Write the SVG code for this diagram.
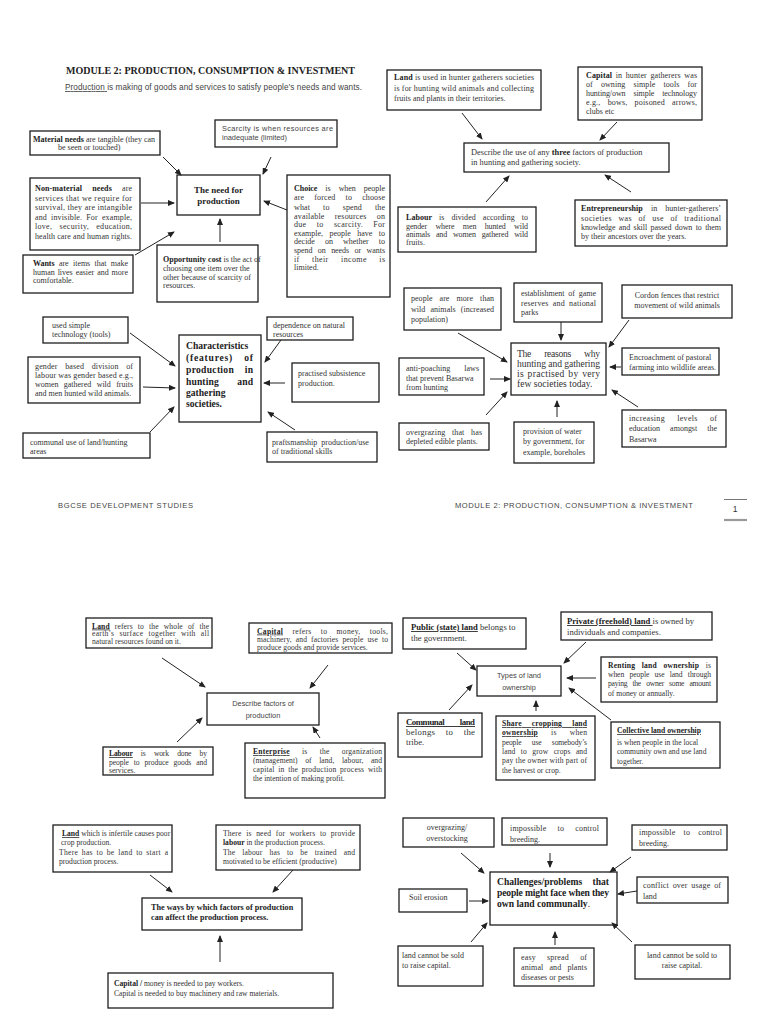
<svg xmlns="http://www.w3.org/2000/svg" width="768" height="1024" viewBox="0 0 768 1024">
<defs>
<marker id="ah" markerUnits="userSpaceOnUse" markerWidth="7" markerHeight="6" refX="6" refY="3" orient="auto"><path d="M0,0 L7,3 L0,6 z" fill="#222"/></marker>
<style>
.bx{fill:#fff;stroke:#1e1e1e;stroke-width:1.3}
.t{font-family:"Liberation Serif","Times New Roman",serif;font-size:8px;fill:#333}
.m{font-size:7.6px}
.s{font-family:"Liberation Sans",Arial,sans-serif;font-size:7.4px;fill:#444}
.b{font-weight:bold;fill:#222}
.u{text-decoration:underline}
.c{text-anchor:middle}
#connectors line{stroke:#222;stroke-width:1;marker-end:url(#ah)}
</style>
</defs>
<rect width="768" height="1024" fill="#fff"/>

<g id="header">
<text x="66" y="74" class="t b" style="font-size:9.6px" textLength="289" lengthAdjust="spacingAndGlyphs">MODULE 2: PRODUCTION, CONSUMPTION &amp; INVESTMENT</text>
<text x="65" y="90" class="s" style="font-size:8.2px" textLength="297" lengthAdjust="spacing"><tspan class="u">Production </tspan>is making of goods and services to satisfy people’s needs and wants.</text>
</g>

<g id="n-material"><rect class="bx" x="30" y="131" width="130" height="24"/>
<text class="t" x="33" y="142" textLength="122" lengthAdjust="spacing"><tspan class="b">Material needs</tspan> are tangible (they can</text>
<text class="t" x="58" y="150">be seen or touched)</text></g>

<g id="n-scarcity"><rect class="bx" x="215" y="120" width="122" height="27"/>
<text class="s" x="222" y="131" textLength="111" lengthAdjust="spacing">Scarcity is when resources are</text>
<text class="s" x="222" y="140">inadequate (limited)</text></g>

<g id="n-need"><rect class="bx" x="177" y="175" width="83" height="40"/>
<text class="t b c" style="font-size:9px" x="218.5" y="193">The need for</text>
<text class="t b c" style="font-size:9px" x="218.5" y="204">production</text></g>

<g id="n-nonmaterial"><rect class="bx" x="30" y="178" width="110" height="72"/>
<text class="t" x="35" y="191" word-spacing="8" textLength="97" lengthAdjust="spacing"><tspan class="b">Non-material needs</tspan> are</text>
<text class="t" x="35" y="201" textLength="97" lengthAdjust="spacing">services that we require for</text>
<text class="t" x="35" y="210" textLength="97" lengthAdjust="spacing">survival, they are intangible</text>
<text class="t" x="35" y="220" word-spacing="2" textLength="97" lengthAdjust="spacing">and invisible. For example,</text>
<text class="t" x="35" y="229" word-spacing="5" textLength="97" lengthAdjust="spacing">love, security, education,</text>
<text class="t" x="35" y="239" textLength="97" lengthAdjust="spacing">health care and human rights.</text></g>

<g id="n-wants"><rect class="bx" x="23" y="255" width="110" height="38"/>
<text class="t" x="33" y="266" word-spacing="2.5" textLength="95" lengthAdjust="spacing"><tspan class="b">Wants</tspan> are items that make</text>
<text class="t" x="33" y="275" word-spacing="1" textLength="95" lengthAdjust="spacing">human lives easier and more</text>
<text class="t" x="33" y="283">comfortable.</text></g>

<g id="n-opportunity"><rect class="bx" x="157" y="245" width="101" height="57"/>
<text class="t" x="163" y="262"><tspan class="b">Opportunity cost</tspan> is the act of</text>
<text class="t" x="163" y="271">choosing one item over the</text>
<text class="t" x="163" y="280">other because of scarcity of</text>
<text class="t" x="163" y="288">resources.</text></g>

<g id="n-choice"><rect class="bx" x="287" y="175" width="103" height="122"/>
<text class="t" x="294" y="191" word-spacing="6" textLength="91" lengthAdjust="spacing"><tspan class="b">Choice</tspan> is when people</text>
<text class="t" x="294" y="200" word-spacing="8" textLength="91" lengthAdjust="spacing">are forced to choose</text>
<text class="t" x="294" y="209.5" word-spacing="11" textLength="91" lengthAdjust="spacing">what to spend the</text>
<text class="t" x="294" y="218.5" word-spacing="8" textLength="91" lengthAdjust="spacing">available resources on</text>
<text class="t" x="294" y="227" word-spacing="8" textLength="91" lengthAdjust="spacing">due to scarcity. For</text>
<text class="t" x="294" y="235.5" word-spacing="4.5" textLength="91" lengthAdjust="spacing">example, people have to</text>
<text class="t" x="294" y="244" word-spacing="8" textLength="91" lengthAdjust="spacing">decide on whether to</text>
<text class="t" x="294" y="253" word-spacing="3.5" textLength="91" lengthAdjust="spacing">spend on needs or wants</text>
<text class="t" x="294" y="262" word-spacing="10" textLength="91" lengthAdjust="spacing">if their income is</text>
<text class="t" x="294" y="270">limited.</text></g>

<g id="n-land-hg"><rect class="bx" x="387" y="70" width="154" height="40"/>
<text class="t" x="394" y="80" textLength="140" lengthAdjust="spacing"><tspan class="b">Land</tspan> is used in hunter gatherers societies</text>
<text class="t" x="394" y="90.5" textLength="140" lengthAdjust="spacing">is for hunting wild animals and collecting</text>
<text class="t" x="394" y="101">fruits and plants in their territories.</text></g>

<g id="n-capital-hg"><rect class="bx" x="578" y="67" width="124" height="53"/>
<text class="t" x="586" y="78" word-spacing="1.5" textLength="111" lengthAdjust="spacing"><tspan class="b">Capital</tspan> in hunter gatherers was</text>
<text class="t" x="586" y="87" word-spacing="6" textLength="111" lengthAdjust="spacing">of owning simple tools for</text>
<text class="t" x="586" y="96" word-spacing="6" textLength="111" lengthAdjust="spacing">hunting/own simple technology</text>
<text class="t" x="586" y="105" word-spacing="5" textLength="111" lengthAdjust="spacing">e.g., bows, poisoned arrows,</text>
<text class="t" x="586" y="114">clubs etc</text></g>

<g id="n-describe-hg"><rect class="bx" x="464" y="143" width="205" height="29"/>
<text class="t" style="font-size:8.4px" x="471" y="155">Describe the use of any <tspan class="b">three</tspan> factors of production</text>
<text class="t" style="font-size:8.4px" x="471" y="165">in hunting and gathering society.</text></g>

<g id="n-labour-hg"><rect class="bx" x="398" y="207" width="138" height="45"/>
<text class="t" x="406" y="220" word-spacing="5" textLength="122" lengthAdjust="spacing"><tspan class="b">Labour</tspan> is divided according to</text>
<text class="t" x="406" y="229" word-spacing="6.5" textLength="122" lengthAdjust="spacing">gender where men hunted wild</text>
<text class="t" x="406" y="237" word-spacing="4" textLength="122" lengthAdjust="spacing">animals and women gathered wild</text>
<text class="t" x="406" y="245">fruits.</text></g>

<g id="n-entre-hg"><rect class="bx" x="575" y="200" width="152" height="46"/>
<text class="t" x="581" y="211" word-spacing="6" textLength="140" lengthAdjust="spacing"><tspan class="b">Entrepreneurship</tspan> in hunter-gatherers’</text>
<text class="t" x="581" y="221" word-spacing="4" textLength="140" lengthAdjust="spacing">societies was of use of traditional</text>
<text class="t" x="581" y="230" word-spacing="1.5" textLength="140" lengthAdjust="spacing">knowledge and skill passed down to them</text>
<text class="t" x="581" y="239">by their ancestors over the years.</text></g>

<g id="n-simple"><rect class="bx" x="43" y="317" width="85" height="26"/>
<text class="t" x="52" y="328">used simple</text>
<text class="t" x="52" y="337">technology (tools)</text></g>

<g id="n-gender"><rect class="bx" x="28" y="357" width="112" height="46"/>
<text class="t" x="35" y="369" word-spacing="5.5" textLength="98" lengthAdjust="spacing">gender based division of</text>
<text class="t" x="35" y="378" textLength="98" lengthAdjust="spacing">labour was gender based e.g.,</text>
<text class="t" x="35" y="387" word-spacing="3.5" textLength="98" lengthAdjust="spacing">women gathered wild fruits</text>
<text class="t" x="35" y="396">and men hunted wild animals.</text></g>

<g id="n-communal-use"><rect class="bx" x="23" y="433" width="127" height="25"/>
<text class="t" x="30" y="445">communal use of land/hunting</text>
<text class="t" x="30" y="454">areas</text></g>

<g id="n-characteristics"><rect class="bx" x="179" y="335" width="82" height="87"/>
<text class="t b" style="font-size:9.6px" x="186" y="349">Characteristics</text>
<text class="t b" style="font-size:9.6px" x="186" y="361" word-spacing="8" textLength="67" lengthAdjust="spacing">(features) of</text>
<text class="t b" style="font-size:9.6px" x="186" y="373" word-spacing="8" textLength="67" lengthAdjust="spacing">production in</text>
<text class="t b" style="font-size:9.6px" x="186" y="385" word-spacing="16" textLength="67" lengthAdjust="spacing">hunting and</text>
<text class="t b" style="font-size:9.6px" x="186" y="396">gathering</text>
<text class="t b" style="font-size:9.6px" x="186" y="407">societies.</text></g>

<g id="n-dependence"><rect class="bx" x="267" y="317" width="86" height="23"/>
<text class="t" x="273" y="328">dependence on natural</text>
<text class="t" x="273" y="337">resources</text></g>

<g id="n-practised"><rect class="bx" x="292" y="363" width="87" height="39"/>
<text class="t" x="298" y="376">practised subsistence</text>
<text class="t" x="298" y="386">production.</text></g>

<g id="n-praftsmanship"><rect class="bx" x="267" y="432" width="110" height="30"/>
<text class="t" x="272" y="445" word-spacing="2">praftsmanship production/use</text>
<text class="t" x="272" y="454">of traditional skills</text></g>

<g id="n-people"><rect class="bx" x="404" y="288" width="97" height="42"/>
<text class="t" x="411" y="301" word-spacing="5" textLength="83" lengthAdjust="spacing">people are more than</text>
<text class="t" x="411" y="312" word-spacing="3" textLength="83" lengthAdjust="spacing">wild animals (increased</text>
<text class="t" x="411" y="322">population)</text></g>

<g id="n-establishment"><rect class="bx" x="514" y="283" width="88" height="39"/>
<text class="t" x="521" y="296" word-spacing="2" textLength="75" lengthAdjust="spacing">establishment of game</text>
<text class="t" x="521" y="306" word-spacing="2" textLength="75" lengthAdjust="spacing">reserves and national</text>
<text class="t" x="521" y="315">parks</text></g>

<g id="n-cordon"><rect class="bx" x="622" y="285" width="110" height="33"/>
<text class="t c" x="677" y="298">Cordon fences that restrict</text>
<text class="t c" x="677" y="308">movement of wild animals</text></g>

<g id="n-reasons"><rect class="bx" x="511" y="343" width="95" height="52"/>
<text class="t" style="font-size:9.6px" x="517" y="357" word-spacing="11" textLength="83" lengthAdjust="spacing">The reasons why</text>
<text class="t" style="font-size:9.6px" x="517" y="367" textLength="83" lengthAdjust="spacing">hunting and gathering</text>
<text class="t" style="font-size:9.6px" x="517" y="377" word-spacing="1" textLength="83" lengthAdjust="spacing">is practised by very</text>
<text class="t" style="font-size:9.6px" x="517" y="387">few societies today.</text></g>

<g id="n-encroachment"><rect class="bx" x="622" y="348" width="97" height="27"/>
<text class="t" x="629" y="360">Encroachment of pastoral</text>
<text class="t" x="629" y="370">farming into wildlife areas.</text></g>

<g id="n-antipoaching"><rect class="bx" x="399" y="358" width="85" height="37"/>
<text class="t" x="406" y="371" word-spacing="12" textLength="73" lengthAdjust="spacing">anti-poaching laws</text>
<text class="t" x="406" y="381">that prevent Basarwa</text>
<text class="t" x="406" y="390">from hunting</text></g>

<g id="n-overgrazing-hg"><rect class="bx" x="399" y="423" width="90" height="27"/>
<text class="t" x="406" y="435" word-spacing="4.5" textLength="76" lengthAdjust="spacing">overgrazing that has</text>
<text class="t" x="406" y="444">depleted edible plants.</text></g>

<g id="n-provision"><rect class="bx" x="514" y="422" width="80" height="41"/>
<text class="t" x="523" y="434">provision of water</text>
<text class="t" x="523" y="444">by government, for</text>
<text class="t" x="523" y="455">example, boreholes</text></g>

<g id="n-increasing"><rect class="bx" x="622" y="410" width="104" height="37"/>
<text class="t" x="629" y="421" word-spacing="10" textLength="88" lengthAdjust="spacing">increasing levels of</text>
<text class="t" x="629" y="431" word-spacing="8" textLength="88" lengthAdjust="spacing">education amongst the</text>
<text class="t" x="629" y="442">Basarwa</text></g>

<g id="footer">
<text class="s" style="font-size:7.6px" x="58" y="508" textLength="135" lengthAdjust="spacing">BGCSE DEVELOPMENT STUDIES</text>
<text class="s" style="font-size:7.6px" x="455" y="508" textLength="238" lengthAdjust="spacing">MODULE 2: PRODUCTION, CONSUMPTION &amp; INVESTMENT</text>
<line x1="724" y1="499.5" x2="747" y2="499.5" stroke="#555" stroke-width="0.8"/>
<text class="s c" style="font-size:8.5px;fill:#333" x="735" y="512">1</text>
<line x1="724" y1="520" x2="747" y2="520" stroke="#999" stroke-width="2.2"/>
</g>

<g id="n-land-f"><rect class="bx" x="86" y="618" width="126" height="30"/>
<text class="t m" x="92" y="628.5" word-spacing="3" textLength="117" lengthAdjust="spacing"><tspan class="b u">Land</tspan> refers to the whole of the</text>
<text class="t m" x="92" y="636" word-spacing="3" textLength="117" lengthAdjust="spacing">earth’s surface together with all</text>
<text class="t m" x="92" y="643.5">natural resources found on it.</text></g>

<g id="n-capital-f"><rect class="bx" x="249" y="623" width="143" height="30"/>
<text class="t m" x="257" y="633.5" word-spacing="7" textLength="131" lengthAdjust="spacing"><tspan class="b u">Capital</tspan> refers to money, tools,</text>
<text class="t m" x="257" y="641.5" word-spacing="2" textLength="131" lengthAdjust="spacing">machinery, and factories people use to</text>
<text class="t m" x="257" y="649.5">produce goods and provide services.</text></g>

<g id="n-describe-f"><rect class="bx" x="207" y="693" width="112" height="32"/>
<text class="s c" x="263" y="706">Describe factors of</text>
<text class="s c" x="263" y="718">production</text></g>

<g id="n-labour-f"><rect class="bx" x="103" y="747" width="110" height="28"/>
<text class="t m" x="109" y="756" word-spacing="6.5" textLength="98" lengthAdjust="spacing"><tspan class="b u">Labour</tspan> is work done by</text>
<text class="t m" x="109" y="765" word-spacing="3" textLength="98" lengthAdjust="spacing">people to produce goods and</text>
<text class="t m" x="109" y="773">services.</text></g>

<g id="n-enterprise-f"><rect class="bx" x="245" y="743" width="140" height="55"/>
<text class="t m" x="253" y="754" word-spacing="10" textLength="129" lengthAdjust="spacing"><tspan class="b u">Enterprise</tspan> is the organization</text>
<text class="t m" x="253" y="763" word-spacing="5.5" textLength="129" lengthAdjust="spacing">(management) of land, labour, and</text>
<text class="t m" x="253" y="772" word-spacing="1.5" textLength="129" lengthAdjust="spacing">capital in the production process with</text>
<text class="t m" x="253" y="781">the intention of making profit.</text></g>

<g id="n-public"><rect class="bx" x="403" y="618" width="123" height="31"/>
<text class="t" style="font-size:8.6px" x="411" y="630"><tspan class="b u">Public (state) land</tspan> belongs to</text>
<text class="t" style="font-size:8.6px" x="411" y="641">the government.</text></g>

<g id="n-private"><rect class="bx" x="561" y="612" width="151" height="28"/>
<text class="t" style="font-size:8.6px" x="567" y="624"><tspan class="b u">Private (freehold) land </tspan>is owned by</text>
<text class="t" style="font-size:8.6px" x="567" y="635">individuals and companies.</text></g>

<g id="n-types"><rect class="bx" x="477" y="666" width="84" height="30"/>
<text class="s c" x="519" y="678">Types of land</text>
<text class="s c" x="519" y="690">ownership</text></g>

<g id="n-renting"><rect class="bx" x="601" y="657" width="116" height="45"/>
<text class="t m" x="608" y="668" word-spacing="4.5" textLength="103" lengthAdjust="spacing"><tspan class="b">Renting land ownership</tspan> is</text>
<text class="t m" x="608" y="677" word-spacing="3.5" textLength="103" lengthAdjust="spacing">when people use land through</text>
<text class="t m" x="608" y="686" word-spacing="3.5" textLength="103" lengthAdjust="spacing">paying the owner some amount</text>
<text class="t m" x="608" y="696">of money or annually.</text></g>

<g id="n-communal"><rect class="bx" x="398" y="713" width="84" height="44"/>
<text class="t" style="font-size:8.8px" x="406" y="725" word-spacing="14" textLength="69" lengthAdjust="spacing"><tspan class="b u">Communal land</tspan></text>
<text class="t" style="font-size:8.8px" x="406" y="735" word-spacing="8" textLength="69" lengthAdjust="spacing">belongs to the</text>
<text class="t" style="font-size:8.8px" x="406" y="745">tribe.</text></g>

<g id="n-share"><rect class="bx" x="496" y="716" width="99" height="64"/>
<text class="t m" x="502" y="726" word-spacing="8" textLength="85" lengthAdjust="spacing"><tspan class="b u">Share cropping land</tspan></text>
<text class="t m" x="502" y="735" word-spacing="11" textLength="85" lengthAdjust="spacing"><tspan class="b u">ownership</tspan> is when</text>
<text class="t m" x="502" y="745" word-spacing="8.5" textLength="85" lengthAdjust="spacing">people use somebody’s</text>
<text class="t m" x="502" y="754" word-spacing="3.5" textLength="85" lengthAdjust="spacing">land to grow crops and</text>
<text class="t m" x="502" y="763" textLength="85" lengthAdjust="spacing">pay the owner with part of</text>
<text class="t m" x="502" y="773">the harvest or crop.</text></g>

<g id="n-collective"><rect class="bx" x="611" y="722" width="109" height="46"/>
<text class="t m" x="617" y="733"><tspan class="b u">Collective land ownership</tspan></text>
<text class="t m" x="617" y="745">is when people in the local</text>
<text class="t m" x="617" y="754">community own and use land</text>
<text class="t m" x="617" y="764">together.</text></g>

<g id="n-land-w"><rect class="bx" x="53" y="825" width="119" height="47"/>
<text class="t m" x="62" y="836"><tspan class="b u">Land</tspan> which is infertile causes poor</text>
<text class="t m" x="61" y="845">crop production.</text>
<text class="t m" x="59" y="855" word-spacing="1.5" textLength="109" lengthAdjust="spacing">There has to be land to start a</text>
<text class="t m" x="59" y="864">production process.</text></g>

<g id="n-labour-w"><rect class="bx" x="216" y="825" width="144" height="45"/>
<text class="t m" x="223" y="836" word-spacing="2.5" textLength="132" lengthAdjust="spacing">There is need for workers to provide</text>
<text class="t m" x="223" y="845"><tspan class="b">labour</tspan> in the production process.</text>
<text class="t m" x="223" y="855" word-spacing="5" textLength="132" lengthAdjust="spacing">The labour has to be trained and</text>
<text class="t m" x="223" y="864">motivated to be efficient (productive)</text></g>

<g id="n-ways"><rect class="bx" x="142" y="898" width="160" height="32"/>
<text class="t b" style="font-size:8.2px" x="151" y="910">The ways by which factors of production</text>
<text class="t b" style="font-size:8.2px" x="151" y="920">can affect the production process.</text></g>

<g id="n-capital-w"><rect class="bx" x="108" y="973" width="225" height="35"/>
<text class="t m" x="114" y="986"><tspan class="b">Capital /</tspan> money is needed to pay workers.</text>
<text class="t m" x="114" y="996">Capital is needed to buy machinery and raw materials.</text></g>

<g id="n-overstock"><rect class="bx" x="403" y="818" width="91" height="29"/>
<text class="t c" x="447" y="830">overgrazing/</text>
<text class="t c" x="447" y="841">overstocking</text></g>

<g id="n-impossible1"><rect class="bx" x="502" y="818" width="105" height="27"/>
<text class="t" x="510" y="831" word-spacing="9" textLength="89" lengthAdjust="spacing">impossible to control</text>
<text class="t" x="510" y="842">breeding.</text></g>

<g id="n-impossible2"><rect class="bx" x="632" y="825" width="95" height="25"/>
<text class="t" x="639" y="835" word-spacing="6" textLength="83" lengthAdjust="spacing">impossible to control</text>
<text class="t" x="639" y="846">breeding.</text></g>

<g id="n-challenges"><rect class="bx" x="490" y="872" width="127" height="53"/>
<text class="t b" style="font-size:9.6px" x="497" y="885" word-spacing="8" textLength="112" lengthAdjust="spacing">Challenges/problems that</text>
<text class="t b" style="font-size:9.6px" x="497" y="896" textLength="112" lengthAdjust="spacing">people might face when they</text>
<text class="t" style="font-size:9.6px" x="497" y="907"><tspan class="b">own land communally</tspan>.</text></g>

<g id="n-conflict"><rect class="bx" x="637" y="877" width="91" height="26"/>
<text class="t" x="643" y="888" word-spacing="1.5" textLength="78" lengthAdjust="spacing">conflict over usage of</text>
<text class="t" x="643" y="899">land</text></g>

<g id="n-soil"><rect class="bx" x="399" y="889" width="68" height="23"/>
<text class="t" x="409" y="900">Soil erosion</text></g>

<g id="n-cannot1"><rect class="bx" x="398" y="946" width="85" height="40"/>
<text class="t" x="402" y="958">land cannot be sold</text>
<text class="t" x="402" y="968">to raise capital.</text></g>

<g id="n-spread"><rect class="bx" x="514" y="948" width="80" height="38"/>
<text class="t" x="521" y="960" word-spacing="9" textLength="66" lengthAdjust="spacing">easy spread of</text>
<text class="t" x="521" y="970" word-spacing="4" textLength="66" lengthAdjust="spacing">animal and plants</text>
<text class="t" x="521" y="980">diseases or pests</text></g>

<g id="n-cannot2"><rect class="bx" x="635" y="945" width="95" height="34"/>
<text class="t c" x="682" y="958">land cannot be sold to</text>
<text class="t c" x="682" y="968">raise capital.</text></g>

<g id="connectors">
<line x1="163" y1="157" x2="181" y2="175"/>
<line x1="271" y1="157" x2="263" y2="174"/>
<line x1="141" y1="203" x2="174" y2="203"/>
<line x1="135" y1="255" x2="174" y2="232"/>
<line x1="220" y1="242" x2="220" y2="219"/>
<line x1="287" y1="210" x2="264" y2="201"/>

<line x1="462" y1="113" x2="482" y2="139"/>
<line x1="617" y1="122" x2="600" y2="140"/>
<line x1="486" y1="202" x2="509" y2="176"/>
<line x1="631" y1="192" x2="605" y2="175"/>

<line x1="130" y1="333" x2="175" y2="366"/>
<line x1="143" y1="387" x2="175" y2="388"/>
<line x1="150" y1="432" x2="174" y2="407"/>
<line x1="281" y1="340" x2="265" y2="362"/>
<line x1="285" y1="383" x2="264" y2="383"/>
<line x1="295" y1="430" x2="268" y2="412"/>

<line x1="458" y1="333" x2="507" y2="362"/>
<line x1="561" y1="322" x2="561" y2="340"/>
<line x1="629" y1="320" x2="609" y2="347"/>
<line x1="621" y1="367" x2="610" y2="367"/>
<line x1="490" y1="379" x2="510" y2="379"/>
<line x1="486" y1="415" x2="507" y2="392"/>
<line x1="557" y1="417" x2="557" y2="401"/>
<line x1="638" y1="407" x2="612" y2="390"/>

<line x1="162" y1="658" x2="205" y2="687"/>
<line x1="328" y1="665" x2="310" y2="688"/>
<line x1="177" y1="742" x2="202" y2="718"/>
<line x1="320" y1="738" x2="313" y2="727"/>

<line x1="457" y1="653" x2="476" y2="670"/>
<line x1="586" y1="642" x2="564" y2="663"/>
<line x1="596" y1="678" x2="567" y2="678"/>
<line x1="449" y1="710" x2="472" y2="685"/>
<line x1="536" y1="711" x2="536" y2="701"/>
<line x1="611" y1="720" x2="569" y2="688"/>

<line x1="150" y1="875" x2="172" y2="892"/>
<line x1="293" y1="870" x2="273" y2="892"/>
<line x1="220" y1="962" x2="220" y2="936"/>

<line x1="461" y1="853" x2="484" y2="873"/>
<line x1="550" y1="853" x2="550" y2="867"/>
<line x1="631" y1="857" x2="610" y2="872"/>
<line x1="637" y1="891" x2="618" y2="894"/>
<line x1="469" y1="901" x2="488" y2="901"/>
<line x1="471" y1="942" x2="487" y2="923"/>
<line x1="555" y1="945" x2="555" y2="932"/>
<line x1="632" y1="942" x2="612" y2="923"/>
</g>
</svg>
